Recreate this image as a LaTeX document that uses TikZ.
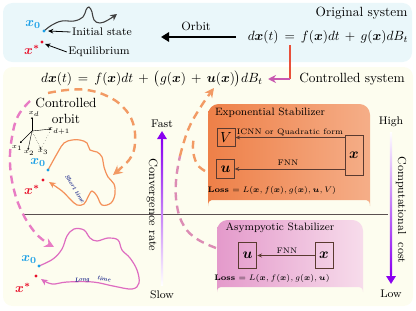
\documentclass[tikz,border=0pt]{standalone}
\usepackage{bm}
\usetikzlibrary{positioning,arrows.meta,calc}

\definecolor{topbg}{HTML}{EAF7FA}
\definecolor{lowbg}{HTML}{FDFDEF}
\definecolor{xcyan}{HTML}{1A9FE6}
\definecolor{xred}{HTML}{E8102A}
\definecolor{orbitorange}{HTML}{F4915A}
\definecolor{orbitpink}{HTML}{DE6CC0}
\definecolor{dashorange}{HTML}{F29A64}
\definecolor{dashpink}{HTML}{E87CC4}
\definecolor{midpink}{HTML}{DC8CB4}
\definecolor{timeblue}{HTML}{1E2A8C}
\definecolor{expL}{HTML}{EE8048}
\definecolor{expR}{HTML}{F5AE88}
\definecolor{asymL}{HTML}{E49ACB}
\definecolor{asymR}{HTML}{F7DCEB}
\definecolor{boxedge}{HTML}{5A3A30}
\definecolor{rateviolet}{HTML}{8A00F0}
\definecolor{linkred}{HTML}{E8503A}
\definecolor{linkpink}{HTML}{C858B0}
\definecolor{divider}{HTML}{5A5050}

\tikzset{
  title/.style={font=\fontsize{10}{12.5}\selectfont, inner sep=1pt},
  eqn/.style={font=\fontsize{10}{12}\selectfont, inner sep=1pt},
  tag/.style={font=\fontsize{8.3}{10}\selectfont, inner sep=1pt},
  boxtitle/.style={font=\fontsize{8}{10}\selectfont, inner sep=1pt},
  varbox/.style={draw=boxedge, line width=0.7pt, inner sep=0pt, font=\fontsize{11}{12}\selectfont},
  netlbl/.style={font=\fontsize{6}{7}\selectfont, inner sep=1pt},
  feed/.style={draw=boxedge, line width=0.6pt, -{Stealth[length=3.5pt,width=3pt]}},
  orbitline/.style={line width=0.9pt, -{Stealth[length=5pt,width=4.5pt]}},
  dashline/.style={line width=1.8pt, dash pattern=on 6pt off 4pt},
  dashtip/.style={-{Stealth[length=7pt,width=7pt]}},
  timelbl/.style={font=\fontsize{4.5}{5}\bfseries\itshape\selectfont, text=timeblue, inner sep=0pt},
  axis/.style={line width=0.3pt, -{Stealth[length=1.5pt,width=1.5pt]}},
  axlbl/.style={font=\fontsize{3.3}{4}\selectfont, inner sep=0pt},
  pointer/.style={line width=0.6pt, -{Stealth[length=4pt,width=3.5pt]}},
  xlbl/.style={font=\fontsize{10}{12}\selectfont, inner sep=0pt},
}

\begin{document}
\begin{tikzpicture}[x=0.75pt,y=-0.75pt]
\useasboundingbox (0,0) rectangle (416,310);

% panels
\fill[topbg, rounded corners=7pt] (3,3) rectangle (412,62);
\fill[lowbg, rounded corners=7pt] (3,67) rectangle (413,306);

% original system
\node[title, anchor=east] (origtitle) at (409,13) {Original system};
\node[eqn] (origeq) at (328,37) {$d\bm{x}(t) \,=\, f(\bm{x})dt \,+\, g(\bm{x})dB_t$};
\node[tag, font=\fontsize{9}{10}\selectfont] (orbitlbl) at (196,26) {Orbit};
\coordinate (orbitR) at (236,37);
\coordinate (orbitL) at (161,37);
\draw[line width=2.2pt, -{Triangle[length=6pt,width=7pt]}] (orbitR) -- (orbitL);

% sketch of a free orbit
\coordinate (x0top) at (44,31);
\coordinate (xstop) at (42,42);
\draw[black!75, line width=0.8pt, -{Stealth[length=5pt,width=5pt]}]
  plot[smooth, tension=0.7] coordinates {(44,31) (52,25) (62,21) (74,21) (83,17) (86,10) (89,7) (92,12) (94,20) (100,23) (108,20) (117,14)};
\fill[xcyan] (x0top) circle[radius=1.3pt];
\fill[xred] (xstop) circle[radius=1.3pt];
\node[xlbl, text=xcyan] (x0toplbl) at (33,25) {$\bm{x_0}$};
\node[xlbl, text=xred] (xstoplbl) at (32,50) {$\bm{x^*}$};
\node[tag] (initlbl) at (102,32) {Initial state};
\node[tag] (equilbl) at (99,52) {Equilibrium};
\draw[pointer] (initlbl.west) -- ($(x0top)+(4,0)$);
\draw[pointer] (equilbl.west) -- ($(xstop)+(3,2)$);

% controlled system
\node[eqn] (ctrleq) at (152,79) {$d\bm{x}(t) \,=\, f(\bm{x})dt \,+\, \big(g(\bm{x}) \,+\, \bm{u}(\bm{x})\big)dB_t$};
\node[title] (ctrltitle) at (352,79) {Controlled system};
\coordinate (drop) at (290,79);
\coordinate (ctrlin) at (268,79);
\draw[linkred, line width=1.6pt] (origeq.south -| drop) -- (drop);
\draw[linkpink, line width=1.6pt, -{Stealth[length=6pt,width=6pt]}] (drop) -- (ctrlin);

% divider
\coordinate (divL) at (24,214);
\coordinate (divR) at (388,214);
\draw[divider, line width=0.6pt] (divL) -- (divR);

% controlled orbit
\node[title, align=center] (ctrlorbit) at (66,111) {Controlled\\orbit};
\coordinate (ax0) at (32,131);
\coordinate (axd) at (32,117);
\coordinate (axe) at (51,129);
\coordinate (ax1) at (20,143);
\coordinate (ax2) at (28,150);
\coordinate (ax3) at (41,149);
\draw[axis] (ax0) -- (axd);
\draw[axis] (ax0) -- (axe);
\draw[axis] (ax0) -- (ax1);
\draw[axis] (ax0) -- (ax2);
\draw[axis, densely dotted] (ax0) -- (ax3);
\draw[line width=0.3pt, dotted] (ax3) -- (axe);
\node[axlbl] (lxd) at (34,114) {$x_d$};
\node[axlbl] (lxe) at (59,131) {$x_{d+1}$};
\node[axlbl] (lx1) at (17,148) {$x_1$};
\node[axlbl] (lx2) at (29,153) {$x_2$};
\node[axlbl] (lx3) at (43,152) {$x_3$};

% fast orbit
\coordinate (x0fast) at (48,170);
\coordinate (xsfast) at (43,180);
\draw[orbitline, orbitorange]
  plot[smooth, tension=0.6] coordinates {(48,170) (58,152) (64,143) (72,140) (80,140) (87,143) (90,150) (97,152) (102,157) (104,167) (108,177) (114,184) (115,194) (111,203) (102,205) (97,196) (92,191) (88,197) (84,204) (77,205) (70,199) (62,191) (49,182)};
\fill[xcyan] (x0fast) circle[radius=1.3pt];
\fill[xred] (xsfast) circle[radius=1.3pt];
\node[xlbl, text=xcyan] (x0fastlbl) at (38,163) {$\bm{x_0}$};
\node[xlbl, text=xred] (xsfastlbl) at (32,190) {$\bm{x^*}$};
\node[timelbl, rotate=-58] (shortlbl) at (75,189) {Short time};

% slow orbit
\coordinate (x0slow) at (39,266);
\coordinate (xsslow) at (36,276);
\draw[orbitline, orbitpink]
  plot[smooth, tension=0.6] coordinates {(39,266) (53,259) (62,249) (67,236) (74,229) (84,230) (90,238) (97,241) (108,238) (118,240) (122,250) (130,258) (137,270) (139,283) (132,289) (113,286) (93,282) (67,282) (52,284) (41,279)};
\fill[xcyan] (x0slow) circle[radius=1.3pt];
\fill[xred] (xsslow) circle[radius=1.3pt];
\node[xlbl, text=xcyan] (x0slowlbl) at (29,260) {$\bm{x_0}$};
\node[xlbl, text=xred] (xsslowlbl) at (23,288) {$\bm{x^*}$};
\node[timelbl, rotate=6] (longlbl) at (82,280) {Long};
\node[timelbl, rotate=-10] (timelbl2) at (104,279) {time};

% dashed arcs
\draw[dashline, dashorange, dashtip]
  plot[smooth, tension=0.7] coordinates {(48,93) (67,90) (87,90) (107,96) (123,107) (133,123) (135,143) (131,157) (122,167) (113,175)};
\draw[dashline, dashpink, dashtip]
  plot[smooth, tension=0.7] coordinates {(30,101) (18,116) (12,137) (10,163) (14,190) (22,212) (33,230) (43,240) (54,247)};

% convergence rate
\coordinate (slow) at (162,285);
\coordinate (fast) at (162,131);
\shade[bottom color=white, top color=rateviolet] (160.9,285) rectangle (163.1,140);
\draw[rateviolet, line width=2pt, -{Triangle[length=6pt,width=7pt]}] ($(fast)+(0,10)$) -- (fast);
\node[tag, above=1pt of fast] (fastlbl) {Fast};
\node[tag, below=3pt of slow] (slowlbl) {Slow};
\node[tag, font=\fontsize{9}{10}\selectfont, rotate=-90] (ratelbl) at (152,205) {Convergence rate};

% computational cost
\coordinate (high) at (391,132);
\coordinate (low) at (391,284);
\shade[top color=white, bottom color=rateviolet] (389.9,132) rectangle (392.1,274);
\draw[rateviolet, line width=2pt, -{Triangle[length=6pt,width=7pt]}] ($(low)+(0,-10)$) -- (low);
\node[tag, above=3pt of high] (highlbl) {High};
\node[tag, below=3pt of low] (lowlbl) {Low};
\node[tag, font=\fontsize{8.7}{10}\selectfont, rotate=-90] (costlbl) at (401,210) {Computational\ \ cost};

% exponential stabilizer
\shade[left color=expL, right color=expR]
  (208,206) [rounded corners=8pt] -- (208,104) -- (370,104) [sharp corners] -- (370,206)
  .. controls (370,201) and (368,200) .. (364,200) -- (214,200)
  .. controls (210,200) and (208,201) .. (208,206) -- cycle;
\node[boxtitle] (exptitle) at (270,113) {Exponential Stabilizer};
\node[varbox, minimum width=13.5pt, minimum height=14pt] (vexp) at (226,137.5) {$V$};
\node[varbox, minimum width=13pt, minimum height=14pt] (uexp) at (225.5,169) {$\bm{u}$};
\node[varbox, minimum width=13.5pt, minimum height=30pt] (xexp) at (354,155) {$\bm{x}$};
\draw[feed] (xexp.west |- vexp) -- (vexp.east);
\draw[feed] (xexp.west |- uexp) -- (uexp.east);
\node[netlbl] (icnnlbl) at (290,132) {ICNN or Quadratic form};
\node[netlbl] (fnnexp) at (288,163) {FNN};
\node[netlbl] (lossexp) at (272,190) {\textbf{Loss} $= L(\bm{x}, f(\bm{x}), g(\bm{x}), \bm{u}, V)$};

% asymptotic stabilizer
\shade[left color=asymL, right color=asymR]
  (217,292) [rounded corners=8pt] -- (217,220) -- (363,220) [sharp corners] -- (363,292)
  .. controls (363,288) and (361,287) .. (357,287) -- (223,287)
  .. controls (219,287) and (217,288) .. (217,292) -- cycle;
\node[boxtitle] (asymtitle) at (280,228) {Asympyotic Stabilizer};
\node[varbox, minimum width=14pt, minimum height=19pt] (uasym) at (247.5,255.5) {$\bm{u}$};
\node[varbox, minimum width=13.5pt, minimum height=19pt] (xasym) at (324,255.5) {$\bm{x}$};
\draw[feed] (xasym) -- (uasym);
\node[netlbl] (fnnasym) at (287,251) {FNN};
\node[netlbl] (lossasym) at (272,278) {\textbf{Loss} $= L(\bm{x}, f(\bm{x}), g(\bm{x}), \bm{u})$};

% feedback into the controlled system
\draw[dashline, midpink]
  plot[smooth, tension=0.7] coordinates {(216,248) (197,239) (184,226) (177,206) (176,181) (180,156)};
\draw[dashline, dashorange]
  plot[smooth, tension=0.7] coordinates {(205,171) (197,164) (193,150) (194,137)};
\draw[dashline, dashorange, dashtip]
  plot[smooth, tension=0.7] coordinates {(180,156) (188,130) (200,108) (214,88)};

\end{tikzpicture}
\end{document}
